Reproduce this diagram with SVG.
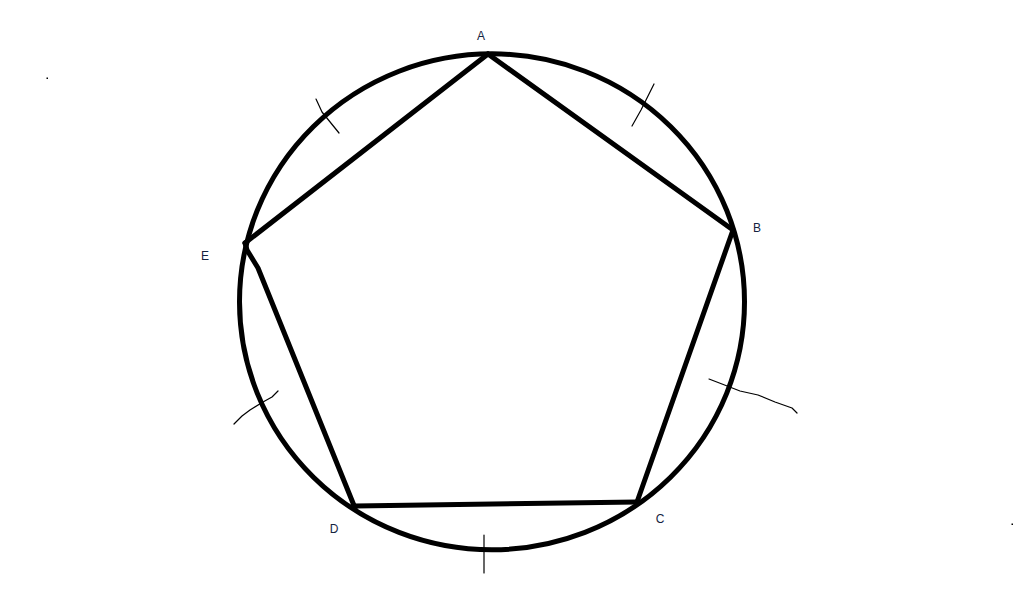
<svg xmlns="http://www.w3.org/2000/svg" width="1035" height="594" viewBox="0 0 1035 594">
<style>
.thick{fill:none;stroke:#000;stroke-width:5;stroke-linejoin:round;stroke-linecap:round}
.thin{fill:none;stroke:#000;stroke-width:1.2;stroke-linecap:round;stroke-linejoin:round}
.lbl{font-family:"Liberation Sans",Arial,sans-serif;font-size:12px;fill:#14233f;text-anchor:middle}
</style>
<rect width="1035" height="594" fill="#fff"/>
<g id="circle">
<ellipse class="thick" cx="492" cy="301.8" rx="252.5" ry="248"/>
</g>
<g id="connectors">
<path class="thick" d="M488,54 L733,230"/>
<path class="thick" d="M733,230 L637,502"/>
<path class="thick" d="M637,502 L355,506"/>
<path class="thick" d="M355,508 L258,268 L247,250 L245,243"/>
<path class="thick" d="M245,243 L488,54"/>
</g>
<g id="ticks">
<path class="thin" d="M316,99 L322,112 L339,133"/>
<path class="thin" d="M654,84 L646,100 L641,110 L632,126"/>
<path class="thin" d="M709,379 L722,384 L740,391 L758,395 L775,402 L792,408 L797,413"/>
<path class="thin" d="M234,424 L242,416 L250,410 L263,402 L272,397 L278,391"/>
<path class="thin" d="M484,535 L484,573"/>
<rect x="46.5" y="77.5" width="1.5" height="1.5" fill="#000"/>
<rect x="1011.5" y="523.5" width="1.5" height="1.5" fill="#000"/>
</g>
<g id="A"><text class="lbl" x="481" y="40">A</text></g>
<g id="B"><text class="lbl" x="757" y="232">B</text></g>
<g id="C"><text class="lbl" x="660" y="523">C</text></g>
<g id="D"><text class="lbl" x="334" y="533">D</text></g>
<g id="E"><text class="lbl" x="205" y="260">E</text></g>
</svg>
